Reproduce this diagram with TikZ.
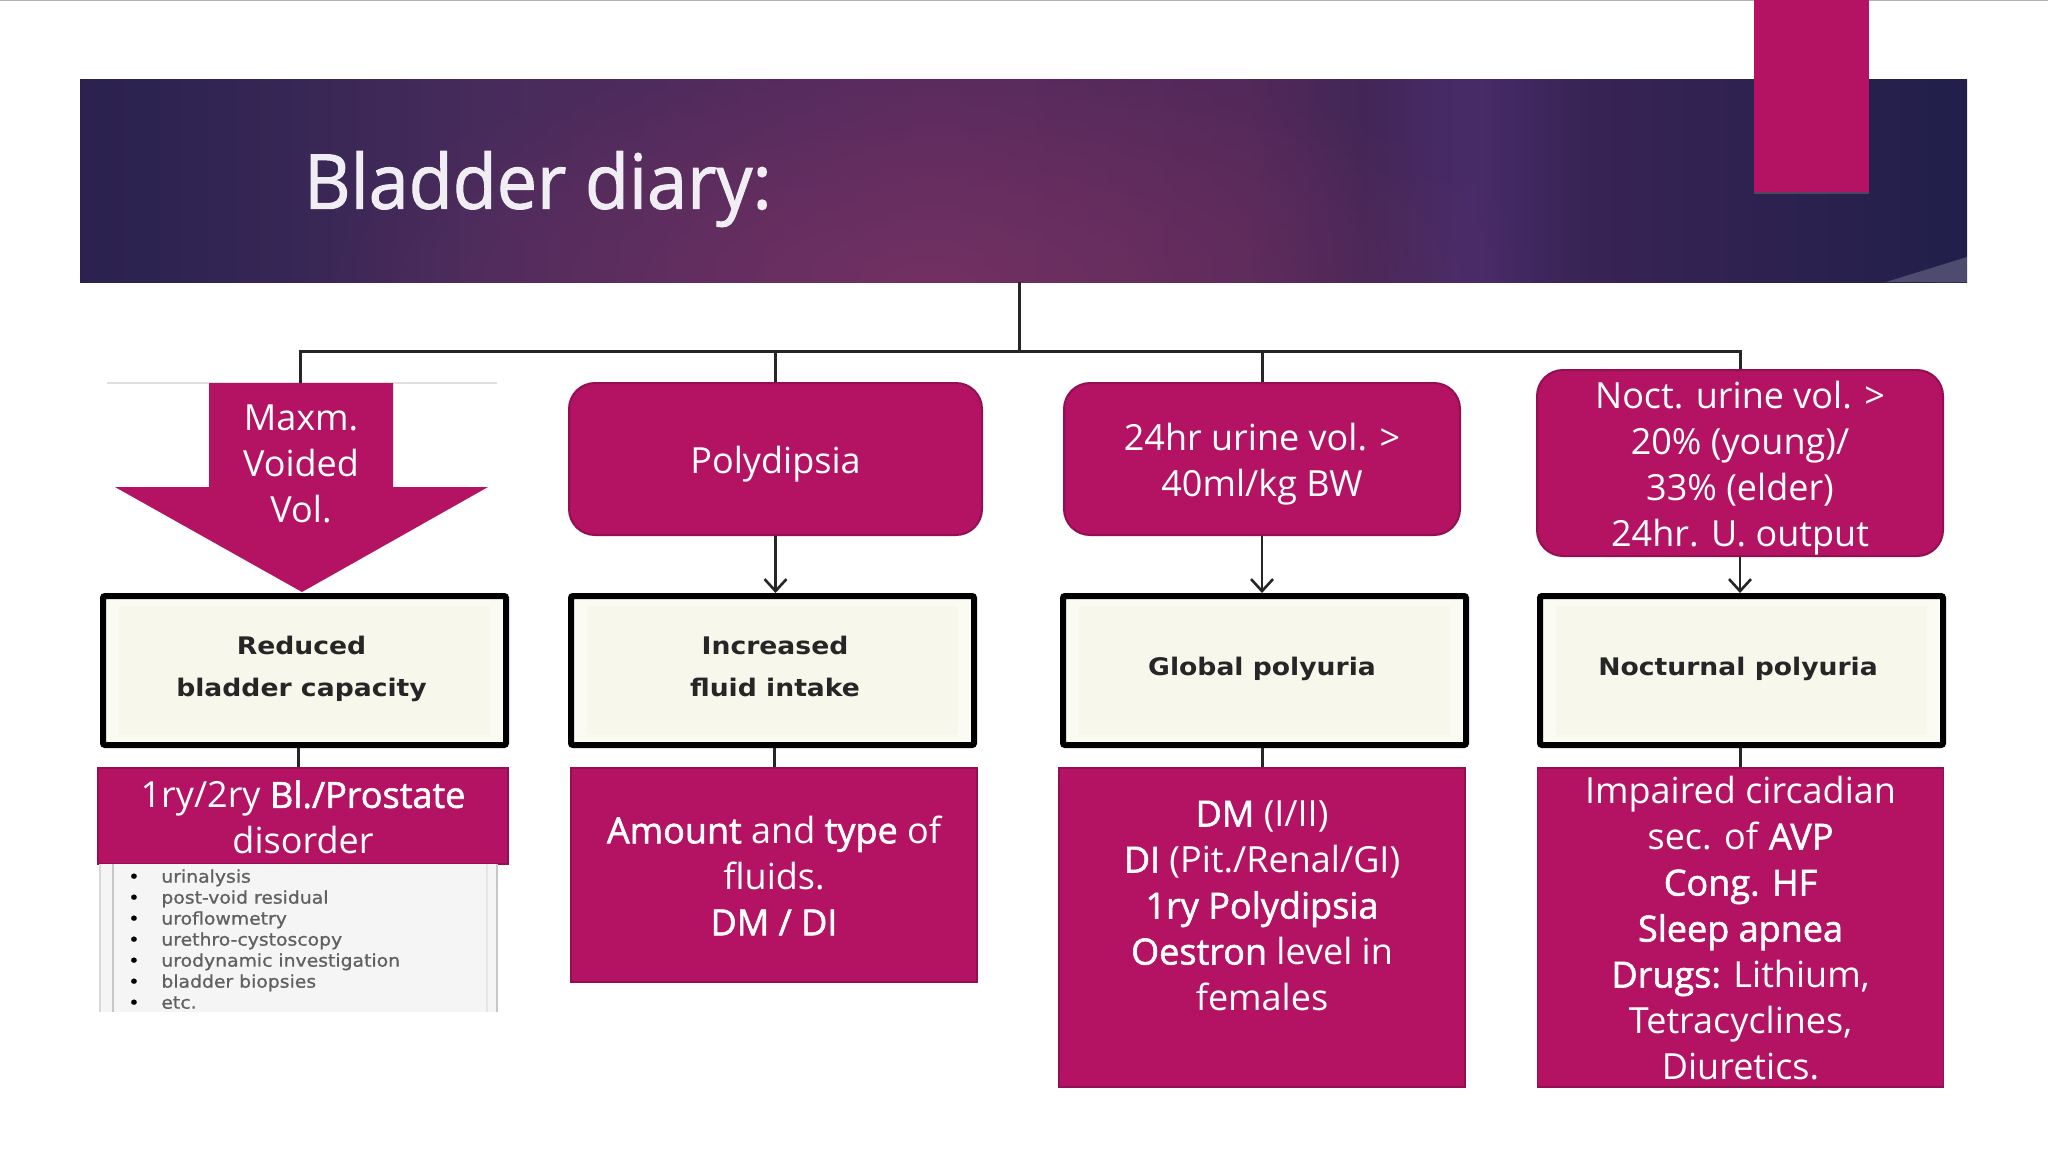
\documentclass[tikz,border=0pt]{standalone}
\usepackage{fontspec}
\setmainfont{Open Sans}[BoldFont=Open Sans,BoldFeatures={FakeBold=1.6}]
\newfontfamily\verdanafont{DejaVu Sans}[FakeStretch=1.08,FakeBold=1]
\newfontfamily\verdanabold{DejaVu Sans Bold}[FakeStretch=1.1]
\newfontfamily\titlefont{Open Sans}[FakeBold=1.3,FakeStretch=0.945]
\usetikzlibrary{positioning,arrows.meta,fadings,shadows}
\definecolor{berry}{HTML}{B31362}
\definecolor{berryedge}{HTML}{930F52}
\definecolor{bevelout}{HTML}{E9E9DF}
\definecolor{bevelmid}{HTML}{FBFBF4}
\definecolor{creamfill}{HTML}{F8F7EC}
\definecolor{titlewhite}{HTML}{F0EEF3}
\pgfdeclarehorizontalshading{bannerfade}{100bp}{
  rgb(0bp)=(0.17,0.13,0.31);
  rgb(25bp)=(0.17,0.13,0.31);
  rgb(27.5bp)=(0.18,0.14,0.32);
  rgb(36bp)=(0.28,0.17,0.36);
  rgb(47.5bp)=(0.35,0.17,0.37);
  rgb(56bp)=(0.32,0.16,0.35);
  rgb(59bp)=(0.26,0.15,0.34);
  rgb(61.85bp)=(0.28,0.17,0.41);
  rgb(65bp)=(0.22,0.14,0.33);
  rgb(75bp)=(0.13,0.12,0.29);
  rgb(100bp)=(0.13,0.12,0.29)}
\tikzfading[name=softglow,inner color=transparent!50,outer color=transparent!100]
\newcommand{\workitem}[1]{\makebox[16.5pt][l]{\textcolor{black}{\textbullet}}#1}
\tikzset{
  droptext/.style={execute at begin node={\rule{0pt}{#1}}},
  topbox/.style={draw=berryedge,line width=1pt,fill=berry,rounded corners=13pt,text=white,align=center,inner sep=0pt,font=\fontsize{18}{23}\selectfont},
  resultbox/.style={draw=black,line width=3pt,rounded corners=1pt,fill=bevelout,inner sep=0pt,minimum width=201.5pt,minimum height=74.5pt,
    path picture={
      \fill[bevelmid] ([shift={(1.5pt,-1.5pt)}]path picture bounding box.north west) rectangle ([shift={(-1.5pt,1.5pt)}]path picture bounding box.south east);
      \fill[creamfill] ([shift={(8pt,-5pt)}]path picture bounding box.north west) rectangle ([shift={(-8pt,5pt)}]path picture bounding box.south east);}},
  resulttext/.style={align=center,inner sep=0pt,font=\verdanabold\fontsize{12.1}{21}\selectfont,text=black!85,execute at begin node=\strut,execute at end node=\strut},
  causebox/.style={draw=berryedge,line width=.6pt,fill=berry,text=white,align=center,inner sep=0pt,font=\fontsize{18}{23}\selectfont},
  branch/.style={draw=black!85,line width=1.5pt},
  feed/.style={draw=black!85,line width=1.3pt,-{Straight Barb[length=6pt,width=11pt]}}
}
\begin{document}
\begin{tikzpicture}[x=0.5pt,y=-0.5pt]
  \useasboundingbox[fill=white] (0,0) rectangle (2048,1152);
  \draw[black!30,line width=.5pt] (0,0.5) -- (2048,0.5);
  % --------
  % Banner
  % --------
  \node[shading=bannerfade,minimum width=943.5pt,minimum height=101.5pt,inner sep=0pt] at (1023.5,180.5) (banner) {};
  \begin{scope}
    \clip (banner.north west) rectangle (banner.south east);
    \fill[color={rgb,1:red,0.55;green,0.21;blue,0.40},path fading=softglow] (927,282) ellipse [x radius=620,y radius=230];
  \end{scope}
  \fill[white,opacity=.2] (1886,282) -- (banner.south east) -- (1967,257) -- cycle;
  \node[fill=berry,minimum width=57.5pt,minimum height=96pt,inner sep=0pt,drop shadow={shadow xshift=0pt,shadow yshift=-1pt,opacity=.4}] at (1811.5,96) (bookmark) {};
  \node[text=titlewhite,anchor=west,font=\titlefont\fontsize{38}{40}\selectfont] at (297,189) (title) {Bladder diary:};

  % --------
  % Top row
  % --------
  \coordinate (maxvol) at (300,383);
  \draw[black!12,line width=.8pt] (107,383) -- (497,383);
  \fill[berry] (209,383) -- (393,383) -- (393,487) -- (488,487) -- (302,592) -- (115,487) -- (209,487) -- cycle;
  \node[text=white,align=center,font=\fontsize{18}{23}\selectfont] at (301,464) (maxvoltext) {Maxm.\\Voided\\Vol.};
  \node[topbox,droptext=18.7pt,minimum width=206.5pt,minimum height=76pt] at (775.5,459) (polydipsia) {Polydipsia};
  \node[topbox,droptext=42pt,minimum width=198pt,minimum height=76pt] at (1262,459) (urinevol) {24hr urine vol. >\\40ml/kg BW};
  \node[topbox,droptext=88pt,minimum width=203pt,minimum height=93pt] at (1740,463) (nocturnal) {Noct. urine vol. >\\20\% (young)/\\33\% (elder)\\24hr. U. output};

  % --------
  % Middle row
  % --------
  \node[resultbox] at (304.5,670.5) (capacity) {};
  \node[resultbox] at (772.5,670.5) (intake) {};
  \node[resultbox] at (1264.5,670.5) (global) {};
  \node[resultbox] at (1741.5,670.5) (nightly) {};
  \node[resulttext] at (301.5,672.5) (capacitytext) {Reduced\\bladder capacity};
  \node[resulttext] at (775,672.5) (intaketext) {Increased\\fluid intake};
  \node[resulttext] at (1262,667) (globaltext) {Global polyuria};
  \node[resulttext] at (1738,667) (nightlytext) {Nocturnal polyuria};

  % --------
  % Bottom row
  % --------
  \node[causebox,droptext=38pt,minimum width=205pt,minimum height=48pt] at (303,816) (disorder) {1ry/2ry \textbf{Bl./Prostate}\\disorder};
  \node[causebox,droptext=60.3pt,minimum width=203pt,minimum height=107pt] at (774,875) (fluids) {\textbf{Amount} and \textbf{type} of\\fluids.\\\textbf{DM / DI}};
  \node[causebox,droptext=129pt,minimum width=203pt,minimum height=159.5pt] at (1262,927.5) (diabetes) {\textbf{DM} (I/II)\\\textbf{DI} (Pit./Renal/GI)\\\textbf{1ry Polydipsia}\\\textbf{Oestron} level in\\females\\~};
  \node[causebox,droptext=152.3pt,minimum width=203pt,minimum height=159.5pt] at (1740.5,927.5) (circadian) {Impaired circadian\\sec. of \textbf{AVP}\\\textbf{Cong. HF}\\\textbf{Sleep apnea}\\\textbf{Drugs:} Lithium,\\Tetracyclines,\\Diuretics.};

  % --------
  % Work-up list
  % --------
  \node[fill=black!4,minimum width=198.5pt,minimum height=74pt,inner sep=0pt] at (298.5,938) (workup) {};
  \draw[black!15,line width=1.2pt] (100,864) -- (100,1012);
  \draw[black!22,line width=1.2pt] (497,864) -- (497,1012);
  \draw[black!22,line width=1.2pt] (113,864) -- (113,1012);
  \draw[black!10,line width=1.2pt] (487,864) -- (487,1012);
  \node[anchor=north west,inner sep=0pt,align=left,text=black!62,font=\verdanafont\fontsize{8.7}{10.5}\selectfont] at (128,869) (worklist) {%
    \workitem{urinalysis}\\
    \workitem{post-void residual}\\
    \workitem{uroflowmetry}\\
    \workitem{urethro-cystoscopy}\\
    \workitem{urodynamic investigation}\\
    \workitem{bladder biopsies}\\
    \workitem{etc.}};

  % Draw line
  \coordinate (trunktop) at (1019,282);
  \coordinate (hub) at (1019,351);
  \draw[branch] (trunktop) -- (hub);
  \draw[branch] (hub) -| (maxvol);
  \draw[branch] (hub) -| (polydipsia.north);
  \draw[branch] (hub) -| (urinevol.north);
  \draw[branch] (hub) -| (nocturnal.north);

  \draw[feed] (polydipsia.south) -- (polydipsia.south |- intake.north);
  \draw[feed] (urinevol.south) -- (urinevol.south |- global.north);
  \draw[feed] (nocturnal.south) -- (nocturnal.south |- nightly.north);

  \coordinate (capacityfoot) at (298,748);
  \draw[branch] (capacityfoot) -- (capacityfoot |- disorder.north);
  \draw[branch] (fluids.north |- intake.south) -- (fluids.north);
  \draw[branch] (diabetes.north |- global.south) -- (diabetes.north);
  \draw[branch] (circadian.north |- nightly.south) -- (circadian.north);
\end{tikzpicture}
\end{document}
